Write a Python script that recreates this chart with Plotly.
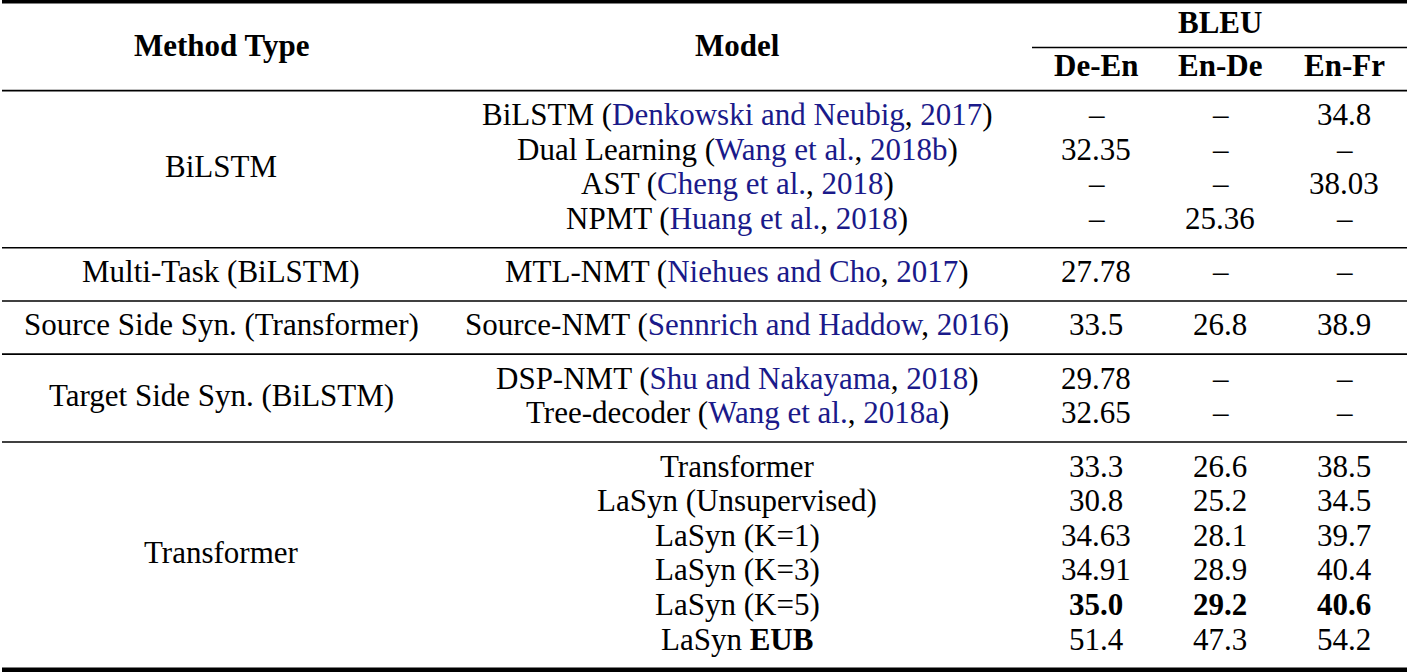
import plotly.graph_objects as go

# ---------------- data ----------------
method_types = ["BiLSTM", "Multi-Task (BiLSTM)", "Source Side Syn. (Transformer)",
                "Target Side Syn. (BiLSTM)", "Transformer"]
group_sizes = [4, 1, 1, 2, 6]

models = ["BiLSTM", "Dual Learning", "AST", "NPMT", "MTL-NMT", "Source-NMT",
          "DSP-NMT", "Tree-decoder", "Transformer", "LaSyn (Unsupervised)",
          "LaSyn (K=1)", "LaSyn (K=3)", "LaSyn (K=5)", "LaSyn <b>EUB</b>"]
cite_authors = ["Denkowski and Neubig", "Wang et al.", "Cheng et al.", "Huang et al.",
                "Niehues and Cho", "Sennrich and Haddow", "Shu and Nakayama", "Wang et al.",
                None, None, None, None, None, None]
cite_years = ["2017", "2018b", "2018", "2018", "2017", "2016", "2018", "2018a",
              None, None, None, None, None, None]

lang_pairs = ["De-En", "En-De", "En-Fr"]
de_en = [None, 32.35, None, None, 27.78, 33.5, 29.78, 32.65, 33.3, 30.8, 34.63, 34.91, 35.0, 51.4]
en_de = [None, None, None, 25.36, None, 26.8, None, None, 26.6, 25.2, 28.1, 28.9, 29.2, 47.3]
en_fr = [34.8, None, 38.03, None, None, 38.9, None, None, 38.5, 34.5, 39.7, 40.4, 40.6, 54.2]
best_row = "LaSyn (K=5)"

header_method = "Method Type"
header_model = "Model"
header_metric = "BLEU"

# ---------------- layout geometry ----------------
W, H = 1412, 672
FONT = "Liberation Serif"
FS = 31
BLACK = "#000000"
CITE = "#1a1a8a"

col_method = 221
col_model = 737
col_vals = [1096, 1220, 1344]
x_left, x_right = 2, 1407
bleu_left = 1032

top_rule = 1.5
header_rule = 90.6
row_step = 34.65
group_pad = 53.2
first_pad = 24.0

fig = go.Figure()
fig.add_trace(go.Scatter(x=[0, W], y=[0, H], mode="markers",
                         marker=dict(opacity=0), hoverinfo="skip", showlegend=False))

ann = []
def txt(x, y, s, bold=False, size=FS, color=BLACK):
    if bold:
        s = "<b>" + s + "</b>"
    ann.append(dict(x=x, y=y, xref="x", yref="y", text=s, showarrow=False,
                    xanchor="center", yanchor="middle",
                    font=dict(family=FONT, size=size, color=color)))

# header
txt(col_method, 45, header_method, bold=True)
txt(col_model, 45, header_model, bold=True)
txt(col_vals[1], 22, header_metric, bold=True)
for cx, lp in zip(col_vals, lang_pairs):
    txt(cx, 65.5, lp, bold=True)

shapes = []
def rule(y, width, x0=x_left, x1=x_right):
    shapes.append(dict(type="line", xref="x", yref="y", x0=x0, x1=x1, y0=y, y1=y,
                       line=dict(color=BLACK, width=width)))

rule(top_rule, 4)
rule(header_rule, 1.6)
rule(47.5, 1.6, x0=bleu_left)

def blue(s):
    return "<span style='color:%s'>%s</span>" % (CITE, s)

def fmt(v):
    return "–" if v is None else str(v)

columns = [de_en, en_de, en_fr]
y_rule = header_rule
r = 0
for gi, (mt, n) in enumerate(zip(method_types, group_sizes)):
    ys = [y_rule + first_pad + k * row_step for k in range(n)]
    txt(col_method, sum(ys) / n, mt)
    for k in range(n):
        i = r + k
        s = models[i]
        if cite_authors[i] is not None:
            s = s + " (" + blue(cite_authors[i]) + ", " + blue(cite_years[i]) + ")"
        txt(col_model, ys[k], s)
        for cx, col in zip(col_vals, columns):
            txt(cx, ys[k], fmt(col[i]), bold=(models[i] == best_row))
    r += n
    y_rule = y_rule + group_pad + (n - 1) * row_step
    last = gi == len(group_sizes) - 1
    rule(y_rule if not last else y_rule + 1.2, 4.5 if last else 1.6)

fig.update_layout(
    width=W, height=H,
    margin=dict(l=0, r=0, t=0, b=0),
    paper_bgcolor="white", plot_bgcolor="white",
    xaxis=dict(range=[0, W], visible=False, fixedrange=True),
    yaxis=dict(range=[H, 0], visible=False, fixedrange=True),
    annotations=ann, shapes=shapes, showlegend=False,
)
fig.write_html("out.html", config={"displayModeBar": False},
               post_script="document.body.style.margin='0px';document.body.style.overflow='hidden';")
